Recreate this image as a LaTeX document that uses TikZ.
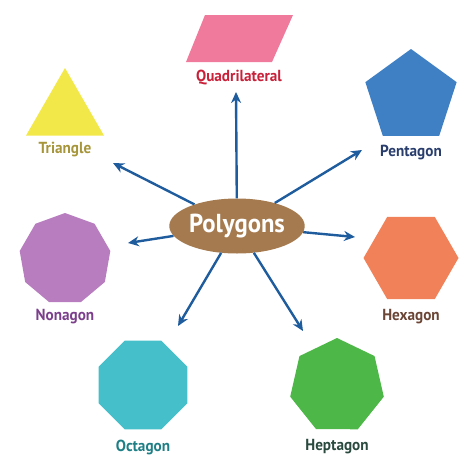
\documentclass[tikz,border=0pt]{standalone}
\usepackage{fontspec}
\setmainfont{PT Sans}[FakeStretch=0.95]
\usetikzlibrary{shapes.geometric,arrows.meta}

\definecolor{arrowblue}{HTML}{1E5C9E}
\definecolor{hubbrown}{HTML}{A57A4E}
\definecolor{quadpink}{HTML}{F07A9C}
\definecolor{quadtext}{HTML}{C8213A}
\definecolor{pentblue}{HTML}{3F7FC4}
\definecolor{penttext}{HTML}{2A3E6E}
\definecolor{triyellow}{HTML}{F2E84A}
\definecolor{tritext}{HTML}{A6953A}
\definecolor{hexorange}{HTML}{F08158}
\definecolor{hextext}{HTML}{6B4535}
\definecolor{nonpurple}{HTML}{B77DBF}
\definecolor{nontext}{HTML}{7B3F8C}
\definecolor{octcyan}{HTML}{45C0CB}
\definecolor{octtext}{HTML}{1F7F86}
\definecolor{hepgreen}{HTML}{4DB848}
\definecolor{heptext}{HTML}{2A4A3F}

\begin{document}
\begin{tikzpicture}[x=1pt,y=-1pt,
  polyshape/.style={regular polygon,inner sep=0pt,draw=none},
  lbl/.style={font=\bfseries\fontsize{16}{16}\selectfont,inner sep=0pt},
  arr/.style={draw=arrowblue,line width=2.4pt,-{Stealth[length=11pt,width=10pt]}}]
\useasboundingbox (0,0) rectangle (474,474);
% hub
\node[ellipse,fill=hubbrown,minimum width=133pt,minimum height=55pt,inner sep=0pt,
  text=white,font=\bfseries\fontsize{26}{26}\selectfont] (P) at (237,226) {Polygons};
% quadrilateral
\fill[quadpink] (205,15) -- (293,15) -- (272,62) -- (186,62) -- cycle;
\node[lbl,text=quadtext] (quadlbl) at (239,78) {Quadrilateral};
% pentagon
\node[polyshape,regular polygon sides=5,fill=pentblue,minimum size=96pt] (pent) at (411,97) {};
\node[lbl,text=penttext] (pentlbl) at (411,153) {Pentagon};
% triangle
\node[polyshape,regular polygon sides=3,fill=triyellow,minimum size=90pt] (tri) at (65,113) {};
\node[lbl,text=tritext] (trilbl) at (65,150) {Triangle};
% hexagon
\node[polyshape,regular polygon sides=6,fill=hexorange,minimum size=95pt] (hex) at (411,258) {};
\node[lbl,text=hextext] (hexlbl) at (411,317) {Hexagon};
% nonagon
\node[polyshape,regular polygon sides=9,fill=nonpurple,minimum size=92pt] (non) at (65,259) {};
\node[lbl,text=nontext] (nonlbl) at (65,317) {Nonagon};
% octagon
\node[polyshape,regular polygon sides=8,fill=octcyan,minimum size=96pt] (oct) at (143,385) {};
\node[lbl,text=octtext] (octlbl) at (143,447) {Octagon};
% heptagon
\node[polyshape,regular polygon sides=7,fill=hepgreen,minimum size=96pt] (hep) at (337,386) {};
\node[lbl,text=heptext] (heplbl) at (337,447) {Heptagon};
% arrow tips
\coordinate (toquad) at (236,92);
\coordinate (topent) at (362,150);
\coordinate (totri) at (113,163);
\coordinate (tonon) at (128,243);
\coordinate (tohex) at (355,237);
\coordinate (tooct) at (178,326);
\coordinate (tohep) at (303,331);
\foreach \t in {toquad,topent,totri,tonon,tohex,tooct,tohep}
  \draw[arr] (P) -- (\t);
\end{tikzpicture}
\end{document}
